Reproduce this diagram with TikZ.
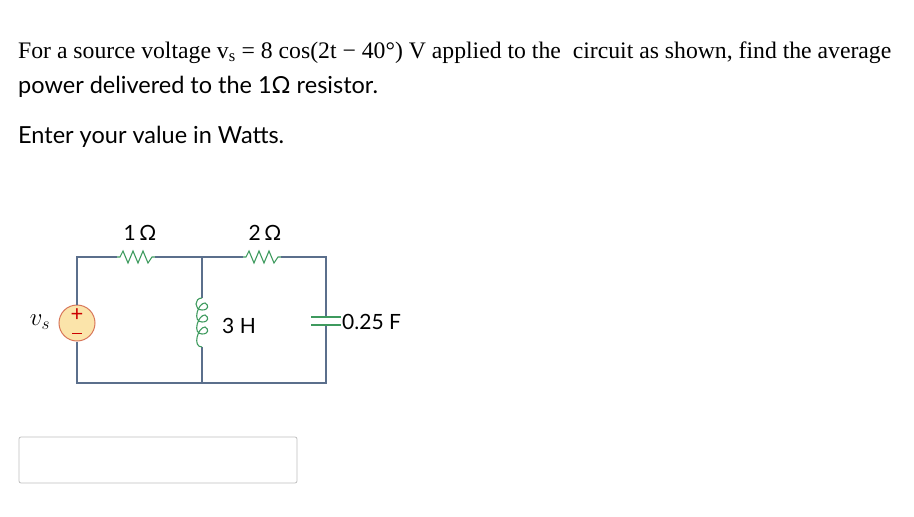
\documentclass[tikz,border=0pt]{standalone}
\usepackage{fontspec}
\setmainfont{Liberation Serif}
\newfontfamily\lato{Lato}
\begin{document}
\begin{tikzpicture}[x=1pt,y=-1pt,
  wire/.style={draw=wirec,line width=1.1pt},
  comp/.style={draw=compc,line width=1.1pt},
  lbl/.style={font=\lato\fontsize{21}{21}\selectfont,inner sep=0pt}]
\definecolor{wirec}{HTML}{5B6F8C}
\definecolor{compc}{HTML}{3E9A5E}
\definecolor{srcfill}{HTML}{FBE4AA}
\definecolor{srcdraw}{HTML}{D8775A}
\path[use as bounding box] (0,0) rectangle (914,517);
\node[anchor=base west,inner sep=0pt,font=\fontsize{23.7}{23.7}\selectfont] (l1) at (18,58)
  {For a source voltage v\textsubscript{s} = 8 cos(2t − 40°) V applied to the\ \ circuit as shown, find the average};
\node[anchor=base west,inner sep=0pt,font=\lato\fontsize{23.5}{23.5}\selectfont] (l2) at (18,93)
  {power delivered to the 1Ω resistor.};
\node[anchor=base west,inner sep=0pt,font=\lato\fontsize{23.5}{23.5}\selectfont] (l3) at (18,143)
  {Enter your value in Watts.};
\draw[draw=black!25,rounded corners=2pt,line width=0.8pt] (19,437) rectangle (297,483);
% nodes
\coordinate (tl) at (77,257); \coordinate (tm) at (202,257); \coordinate (tr) at (326,257);
\coordinate (bl) at (77,383); \coordinate (bm) at (202,383); \coordinate (br) at (326,383);
\node[circle,draw=srcdraw,fill=srcfill,line width=1pt,minimum size=36pt,inner sep=0pt] (src) at (77,323) {};
\node[text=red!80!black,font=\lato\fontsize{22}{22}\selectfont,inner sep=0pt] (plus) at (77,315) {+};
\draw[red!80!black,line width=1pt] (72,333) -- (82,333);
\node[font=\fontsize{24}{24}\selectfont,inner sep=0pt] (vs) at (40,322) {$v_s$};
% wires
\draw[wire] (src.north) -- (tl) -- (117,257);
\draw[wire] (155,257) -- (tm) -- (243,257);
\draw[wire] (281,257) -- (tr) -- (326,317);
\draw[wire] (326,325) -- (br) -- (bl) -- (src.south);
\draw[wire] (tm) -- (202,298); \draw[wire] (202,347) -- (bm);
% resistors
\draw[comp] (117,257) -- (120,257) -- (123,251) -- (128,263) -- (133,251) -- (138,263) -- (143,251) -- (148,263) -- (152,257) -- (155,257);
\draw[comp] (243,257) -- (246,257) -- (249,251) -- (254,263) -- (259,251) -- (264,263) -- (269,251) -- (274,263) -- (278,257) -- (281,257);
% inductor
\draw[comp] (202,298) .. controls (194,298) and (194,310) .. (202,310) .. controls (209,310) and (209,305) .. (205,303)
  .. controls (198,303) and (192,322) .. (202,322) .. controls (209,322) and (209,317) .. (205,315)
  .. controls (198,315) and (192,334) .. (202,334) .. controls (209,334) and (209,329) .. (205,327)
  .. controls (198,327) and (192,347) .. (202,347);
% capacitor
\draw[comp] (311,317) -- (341,317); \draw[comp] (311,325) -- (341,325);
% labels
\node[lbl] (r1) at (140,233) {1\,Ω};
\node[lbl] (r2) at (265,233) {2\,Ω};
\node[lbl,anchor=west] (l) at (222,326) {3 H};
\node[lbl,anchor=west] (c) at (342,322) {0.25 F};
\end{tikzpicture}
\end{document}
